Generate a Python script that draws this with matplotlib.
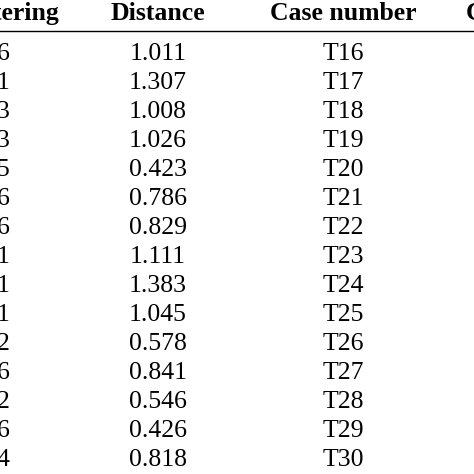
import matplotlib
matplotlib.use("Agg")
import matplotlib.pyplot as plt

# table contents (cropped view of a wider table)
headers = ["Clustering", "Distance", "Case number", "Cut"]
cluster = ["6", "1", "3", "3", "5", "6", "6", "1", "1", "1", "2", "6", "2", "6", "4"]
distance = ["1.011", "1.307", "1.008", "1.026", "0.423", "0.786", "0.829", "1.111",
            "1.383", "1.045", "0.578", "0.841", "0.546", "0.426", "0.818"]
cases = ["T%d" % i for i in range(16, 31)]

fig = plt.figure(figsize=(4.74, 4.74), dpi=100)
ax = fig.add_axes([0, 0, 1, 1])
ax.set_xlim(0, 474)
ax.set_ylim(474, 0)
ax.axis("off")

font = "Liberation Serif"
fs = 18.5

# headers (first and last are cut off by the crop, as in the reference)
ax.text(60, 13, headers[0], ha="right", va="center", fontsize=fs, fontweight="bold", family=font)
ax.text(158, 13, headers[1], ha="center", va="center", fontsize=fs, fontweight="bold", family=font)
ax.text(343, 13, headers[2], ha="center", va="center", fontsize=fs, fontweight="bold", family=font)
ax.text(466, 13, headers[3], ha="left", va="center", fontsize=fs, fontweight="bold", family=font)
ax.plot([0, 474], [31, 31], color="black", lw=1)

y0, dy = 54, 29
for i in range(len(cases)):
    y = y0 + i * dy
    ax.text(3, y, cluster[i], ha="center", va="center", fontsize=fs, family=font)
    ax.text(158, y, distance[i], ha="center", va="center", fontsize=fs, family=font)
    ax.text(343, y, cases[i], ha="center", va="center", fontsize=fs, family=font)

fig.savefig("out.png", dpi=100)
